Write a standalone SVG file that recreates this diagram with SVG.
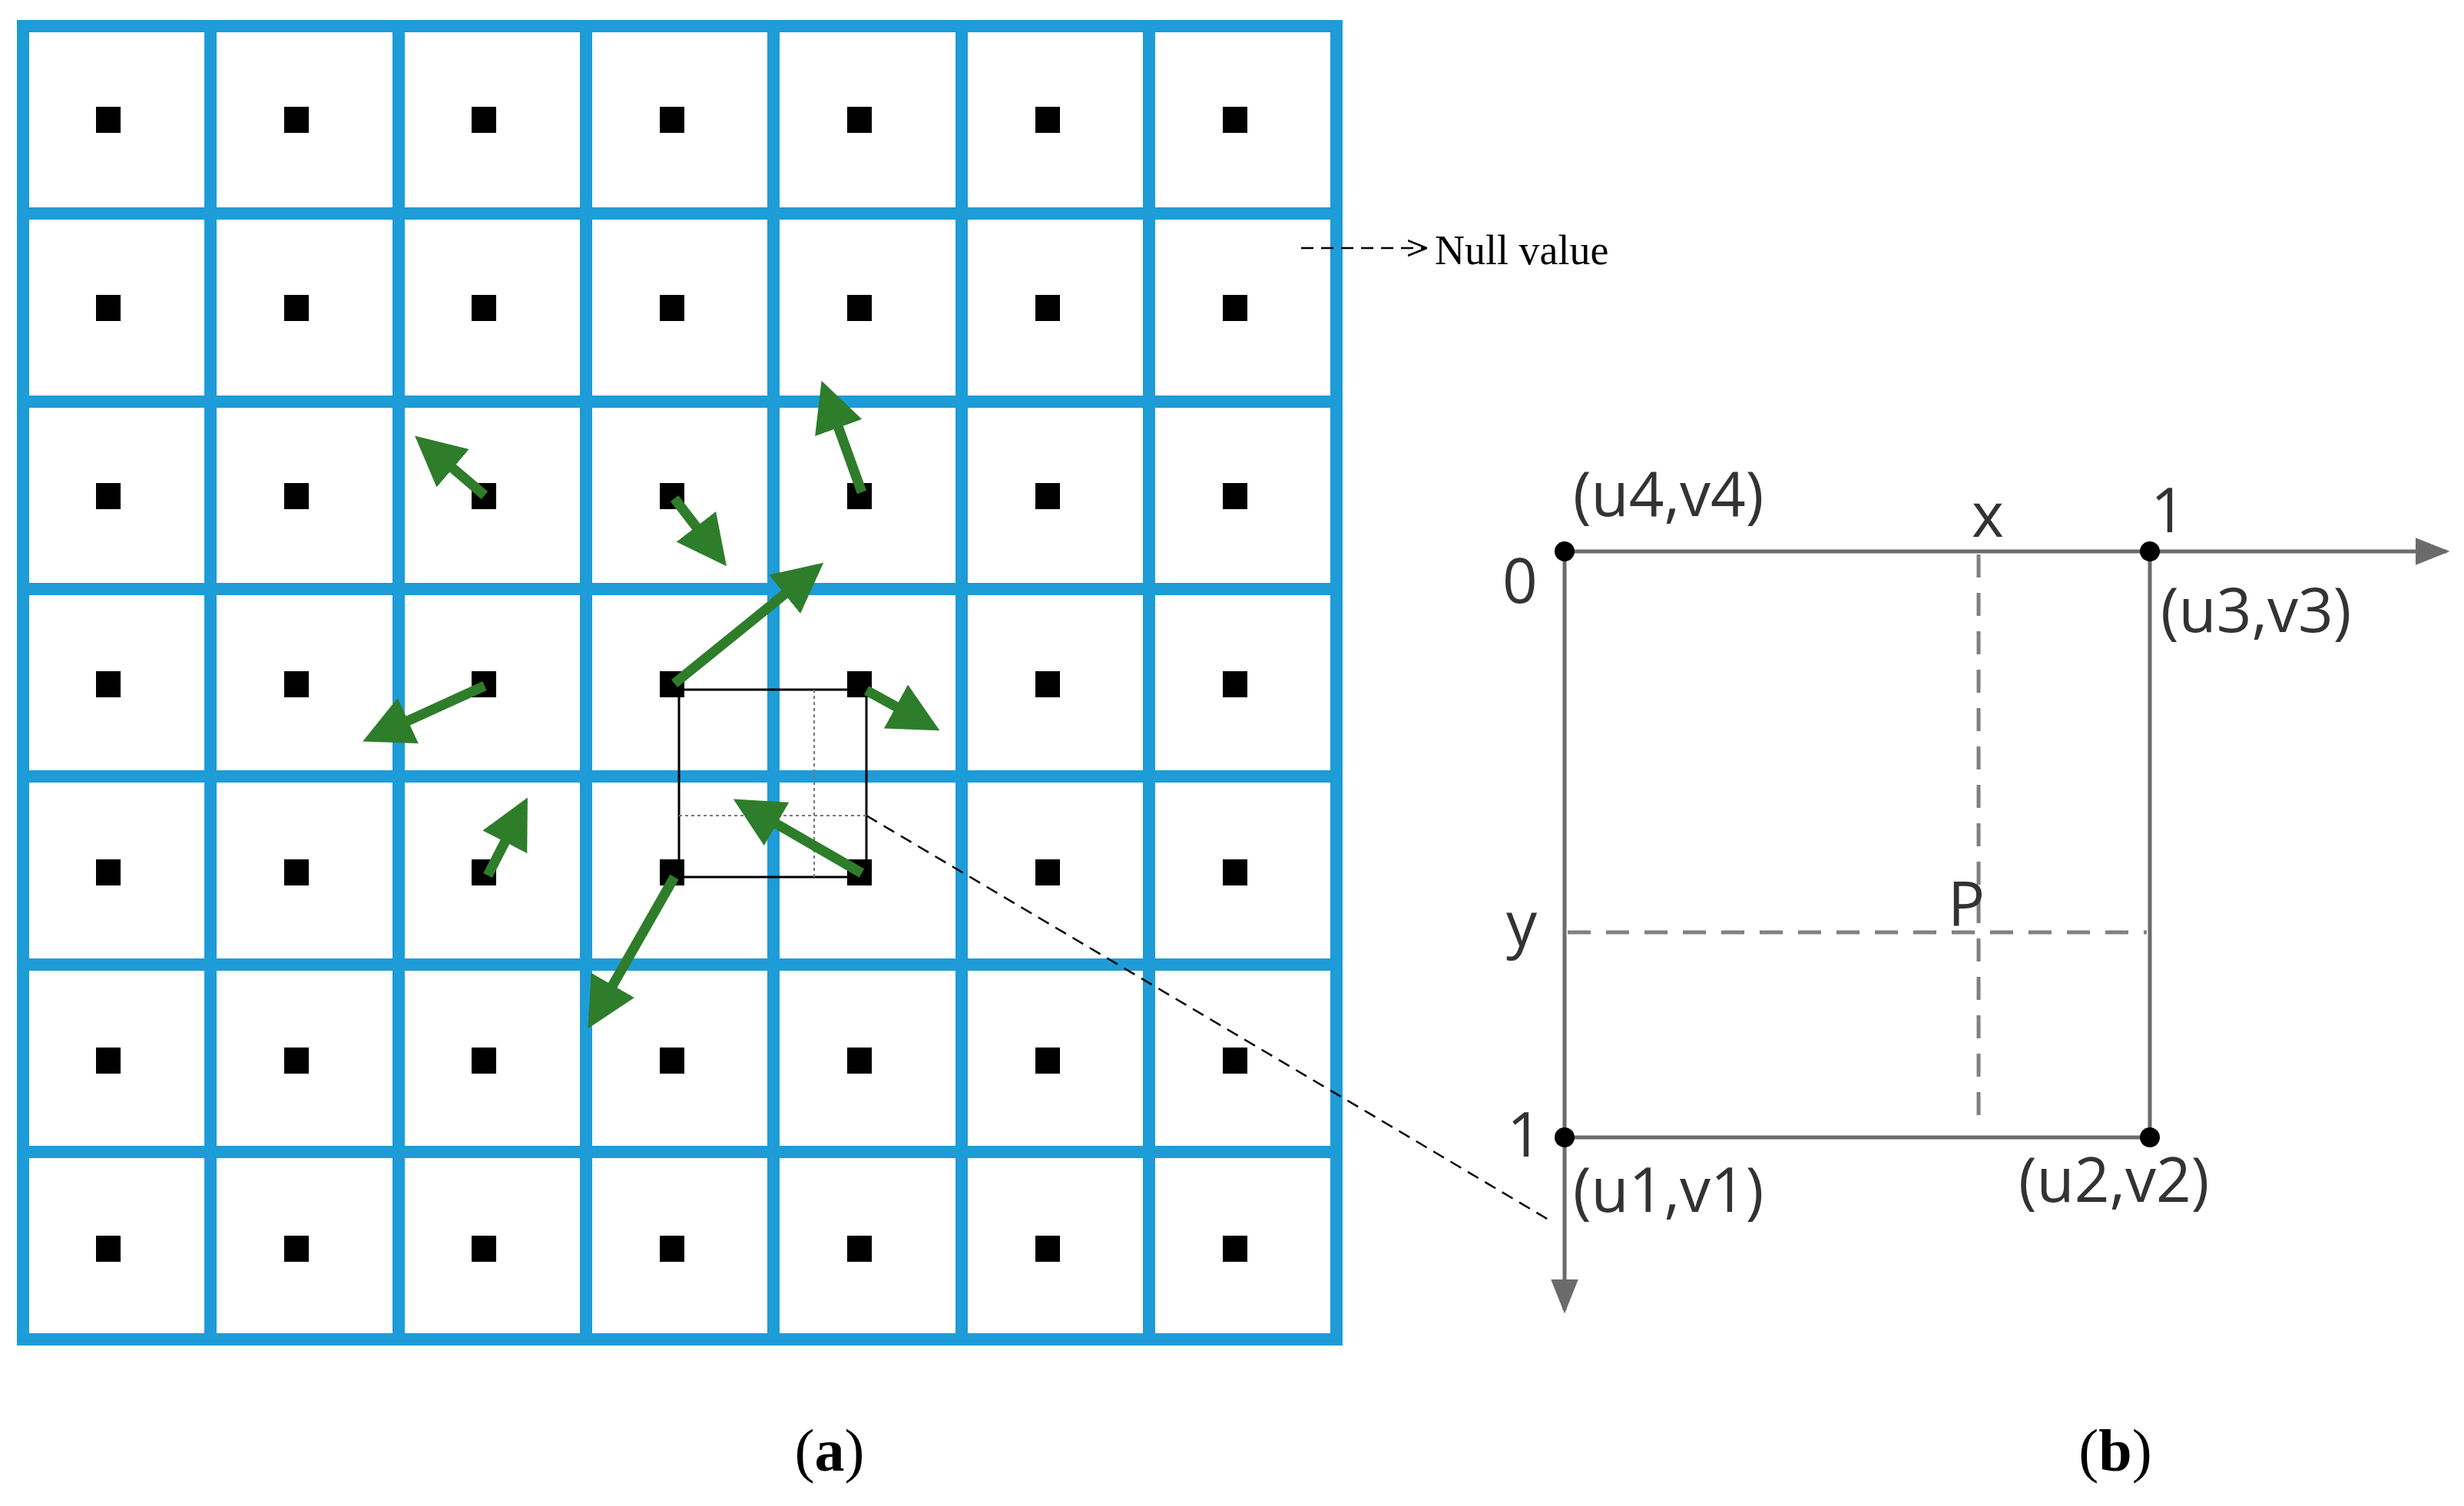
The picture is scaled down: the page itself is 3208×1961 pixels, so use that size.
<svg xmlns="http://www.w3.org/2000/svg" width="3208" height="1961" viewBox="0 0 3208 1961">
<style>
.g{stroke:#1e9cd7;stroke-width:16;fill:none}
.d{fill:#000}
.ar{stroke:#2e7d2a;stroke-width:13;fill:none;marker-end:url(#gh)}
.lb{font-family:"Open Sans","Liberation Sans",sans-serif;font-size:80px;fill:#333}
.ax{stroke:#6b6b6b;stroke-width:5;fill:none}
.dh{stroke:#808080;stroke-width:5;stroke-dasharray:30,20;fill:none}
.cap{font-family:"Liberation Serif",serif;font-size:78px;fill:#000}
</style>
<defs>
<marker id="gh" viewBox="0 0 10 10" refX="8" refY="5" markerWidth="5" markerHeight="5" orient="auto" markerUnits="strokeWidth"><path d="M0,0L10,5L0,10z" fill="#2e7d2a"/></marker>
<marker id="ah" viewBox="0 0 10 10" refX="9" refY="5" markerWidth="9" markerHeight="9" orient="auto" markerUnits="strokeWidth"><path d="M0,1L10,5L0,9z" fill="#6b6b6b"/></marker>
<marker id="oh" viewBox="0 0 10 10" refX="9" refY="5" markerWidth="10" markerHeight="10" orient="auto" markerUnits="strokeWidth"><path d="M0,1L10,5L0,9" fill="none" stroke="#000"/></marker>
</defs>
<rect width="3208" height="1961" fill="#fff"/>
<g id="grid">
<path class="g" d="M30,34V1750M274,34V1750M519,34V1750M763,34V1750M1007,34V1750M1252,34V1750M1496,34V1750M1740,34V1750M22,34H1748M22,278H1748M22,523H1748M22,767H1748M22,1011H1748M22,1256H1748M22,1500H1748M22,1744H1748"/>
</g>
<g id="dots">
<g class="d">
<rect x="125" y="139" width="32" height="34"/><rect x="370" y="139" width="32" height="34"/><rect x="614" y="139" width="32" height="34"/><rect x="859" y="139" width="32" height="34"/><rect x="1103" y="139" width="32" height="34"/><rect x="1348" y="139" width="32" height="34"/><rect x="1592" y="139" width="32" height="34"/>
<rect x="125" y="384" width="32" height="34"/><rect x="370" y="384" width="32" height="34"/><rect x="614" y="384" width="32" height="34"/><rect x="859" y="384" width="32" height="34"/><rect x="1103" y="384" width="32" height="34"/><rect x="1348" y="384" width="32" height="34"/><rect x="1592" y="384" width="32" height="34"/>
<rect x="125" y="629" width="32" height="34"/><rect x="370" y="629" width="32" height="34"/><rect x="614" y="629" width="32" height="34"/><rect x="859" y="629" width="32" height="34"/><rect x="1103" y="629" width="32" height="34"/><rect x="1348" y="629" width="32" height="34"/><rect x="1592" y="629" width="32" height="34"/>
<rect x="125" y="874" width="32" height="34"/><rect x="370" y="874" width="32" height="34"/><rect x="614" y="874" width="32" height="34"/><rect x="859" y="874" width="32" height="34"/><rect x="1103" y="874" width="32" height="34"/><rect x="1348" y="874" width="32" height="34"/><rect x="1592" y="874" width="32" height="34"/>
<rect x="125" y="1119" width="32" height="34"/><rect x="370" y="1119" width="32" height="34"/><rect x="614" y="1119" width="32" height="34"/><rect x="859" y="1119" width="32" height="34"/><rect x="1103" y="1119" width="32" height="34"/><rect x="1348" y="1119" width="32" height="34"/><rect x="1592" y="1119" width="32" height="34"/>
<rect x="125" y="1364" width="32" height="34"/><rect x="370" y="1364" width="32" height="34"/><rect x="614" y="1364" width="32" height="34"/><rect x="859" y="1364" width="32" height="34"/><rect x="1103" y="1364" width="32" height="34"/><rect x="1348" y="1364" width="32" height="34"/><rect x="1592" y="1364" width="32" height="34"/>
<rect x="125" y="1609" width="32" height="34"/><rect x="370" y="1609" width="32" height="34"/><rect x="614" y="1609" width="32" height="34"/><rect x="859" y="1609" width="32" height="34"/><rect x="1103" y="1609" width="32" height="34"/><rect x="1348" y="1609" width="32" height="34"/><rect x="1592" y="1609" width="32" height="34"/>
</g>
</g>
<g id="cell">
<rect x="884" y="898" width="244" height="244" fill="none" stroke="#000" stroke-width="3"/>
<path d="M1060,898V1142M884,1062H1128" stroke="#777" stroke-width="2" stroke-dasharray="4,4" fill="none"/>
</g>
<g id="vectors">
<line class="ar" x1="631" y1="645" x2="550" y2="576"/>
<line class="ar" x1="878" y1="649" x2="938" y2="727"/>
<line class="ar" x1="1122" y1="641" x2="1074" y2="508"/>
<line class="ar" x1="878" y1="890" x2="1062" y2="741"/>
<line class="ar" x1="631" y1="893" x2="484" y2="960"/>
<line class="ar" x1="1128" y1="899" x2="1212" y2="945"/>
<line class="ar" x1="635" y1="1140" x2="681" y2="1050"/>
<line class="ar" x1="1122" y1="1137" x2="966" y2="1047"/>
<line class="ar" x1="878" y1="1142" x2="772" y2="1328"/>
</g>
<g id="connectors">
<line x1="1128" y1="1062" x2="2021" y2="1591" stroke="#000" stroke-width="2.5" stroke-dasharray="16,10"/>
<line x1="1694" y1="323" x2="1855" y2="323" stroke="#000" stroke-width="2.5" stroke-dasharray="16,10" marker-end="url(#oh)"/>
</g>
<text class="cap" x="1868" y="344" style="font-size:54px">Null value</text>
<g id="panel-b">
<line class="ax" x1="2037" y1="718" x2="3185" y2="718" marker-end="url(#ah)"/>
<line class="ax" x1="2037" y1="718" x2="2037" y2="1706" marker-end="url(#ah)"/>
<line class="ax" x1="2799" y1="718" x2="2799" y2="1481"/>
<line class="ax" x1="2037" y1="1481" x2="2799" y2="1481"/>
<line class="dh" x1="2576" y1="722" x2="2576" y2="1466"/>
<line class="dh" x1="2041" y1="1214" x2="2795" y2="1214"/>
<g fill="#000"><circle cx="2037" cy="718" r="13"/><circle cx="2799" cy="718" r="13"/><circle cx="2037" cy="1481" r="13"/><circle cx="2799" cy="1481" r="13"/></g>
<text class="lb" x="2048" y="672">(u4,v4)</text>
<text class="lb" x="2567" y="699">x</text>
<text class="lb" x="2800" y="693">1</text>
<text class="lb" x="1956" y="785">0</text>
<text class="lb" x="2813" y="823">(u3,v3)</text>
<text class="lb" x="2536" y="1206">P</text>
<text class="lb" x="1961" y="1232">y</text>
<text class="lb" x="1962" y="1506">1</text>
<text class="lb" x="2048" y="1578">(u1,v1)</text>
<text class="lb" x="2628" y="1565">(u2,v2)</text>
</g>
<text class="cap" x="1080" y="1915" text-anchor="middle">(<tspan font-weight="bold">a</tspan>)</text>
<text class="cap" x="2754" y="1915" text-anchor="middle">(<tspan font-weight="bold">b</tspan>)</text>
</svg>
